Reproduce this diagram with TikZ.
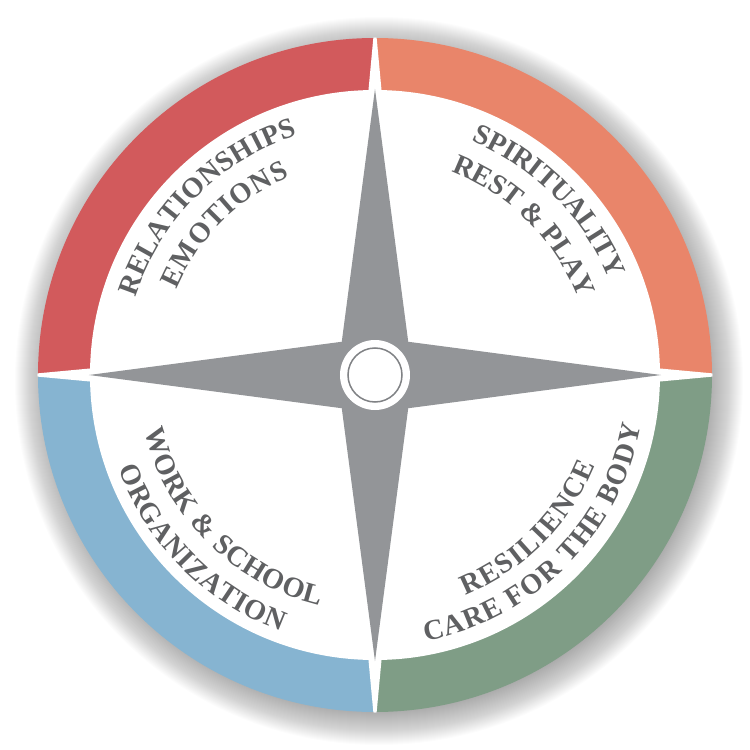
\documentclass[tikz,border=0pt]{standalone}
\usepackage{fontspec}
\setmainfont{Liberation Serif}
\definecolor{cred}{HTML}{D25A5C}
\definecolor{corange}{HTML}{E9856A}
\definecolor{cgreen}{HTML}{7F9D86}
\definecolor{cblue}{HTML}{86B4D1}
\definecolor{ctext}{HTML}{5F6062}
\definecolor{cstar}{HTML}{939598}
\definecolor{cring}{HTML}{808285}
\newcommand{\arcsize}{28.5}
\newcommand{\arcfont}{\fontsize{28.5}{30}\selectfont\bfseries}
\tikzset{
  arcchar/.style={inner sep=0pt, outer sep=0pt, font=\arcfont, text=ctext, anchor=base},
  quadrant/.style={fill=#1}
}
\makeatletter
% #1 radius, #2 centre angle, #3 +1 (top, clockwise) or -1 (bottom, counter-clockwise),
% #4 tracking (pt), #5 list of character/width (in 1/1000 em)
\newcommand\arcline[5]{%
  \gdef\arc@total{0}%
  \foreach \c/\w in {#5} {%
    \pgfmathsetmacro\arc@t{\arc@total+\w/1000*\arcsize+#4}%
    \global\let\arc@total\arc@t
  }%
  \pgfmathsetmacro\arc@tt{\arc@total-(#4)}%
  \global\let\arc@total\arc@tt
  \gdef\arc@pos{0}%
  \foreach \c/\w in {#5} {%
    \pgfmathsetmacro\arc@mid{\arc@pos+\w/2000*\arcsize-\arc@total/2}%
    \pgfmathsetmacro\arc@ang{(#2)-(#3)*\arc@mid/(#1)*57.29578}%
    \pgfmathsetmacro\arc@rot{\arc@ang-(#3)*90}%
    \node[arcchar, rotate=\arc@rot] at (\arc@ang:#1) {\c};
    \pgfmathsetmacro\arc@t{\arc@pos+\w/1000*\arcsize+#4}%
    \global\let\arc@pos\arc@t
  }%
}
\makeatother
\begin{document}
\begin{tikzpicture}[x=1pt,y=1pt]
\useasboundingbox (-375,-375) rectangle (375,375);
% drop shadow
\foreach \r in {330,331,...,364} {
  \fill[black, opacity=0.013] (4,-6) circle[radius=\r];
}
% coloured ring
\fill[quadrant=cred] (0,0) -- (90:337) arc[start angle=90,end angle=180,radius=337] -- cycle;
\fill[quadrant=corange] (0,0) -- (0:337) arc[start angle=0,end angle=90,radius=337] -- cycle;
\fill[quadrant=cgreen] (0,0) -- (270:337) arc[start angle=270,end angle=360,radius=337] -- cycle;
\fill[quadrant=cblue] (0,0) -- (180:337) arc[start angle=180,end angle=270,radius=337] -- cycle;
\fill[white] (0,0) circle[radius=285];
% white gaps
\begin{scope}
  \clip (0,0) circle[radius=337.5];
  \foreach \a in {0,90,180,270} {
    \fill[white, rotate=\a] (0,355) -- (-25.6,80) -- (25.6,80) -- cycle;
  }
\end{scope}
% compass star
\fill[cstar] (90:286) -- (45:47) -- (0:286) -- (-45:47) -- (-90:286) -- (-135:47) -- (180:286) -- (135:47) -- cycle;
\fill[white] (0,0) circle[radius=35];
\draw[cring, line width=1.5pt] (0,0) circle[radius=27];
% texts
\arcline{252}{135}{1}{0.3}{R/722,E/667,L/667,A/722,T/667,I/389,O/778,N/722,S/556,H/778,I/389,P/611,S/556}
\arcline{216}{135}{1}{1.0}{E/667,M/944,O/778,T/667,I/389,O/778,N/722,S/556}
\arcline{253}{45}{1}{-0.5}{S/556,P/611,I/389,R/722,I/389,T/667,U/722,A/722,L/667,I/389,T/667,Y/722}
\arcline{217}{45}{1}{-0.5}{R/722,E/667,S/556,T/667,~/250,\&/833,~/250,P/611,L/667,A/722,Y/722}
\arcline{237}{225}{-1}{0.6}{W/1000,O/778,R/722,K/778,~/250,\&/833,~/250,S/556,C/722,H/778,O/778,O/778,L/667}
\arcline{273}{225}{-1}{0.7}{O/778,R/722,G/778,A/722,N/722,I/389,Z/667,A/722,T/667,I/389,O/778,N/722}
\arcline{238}{315}{-1}{1.5}{R/722,E/667,S/556,I/389,L/667,I/389,E/667,N/722,C/722,E/667}
\arcline{271}{315}{-1}{1.2}{C/722,A/722,R/722,E/667,~/250,F/611,O/778,R/722,~/250,T/667,H/778,E/667,~/250,B/667,O/778,D/722,Y/722}
\end{tikzpicture}
\end{document}
